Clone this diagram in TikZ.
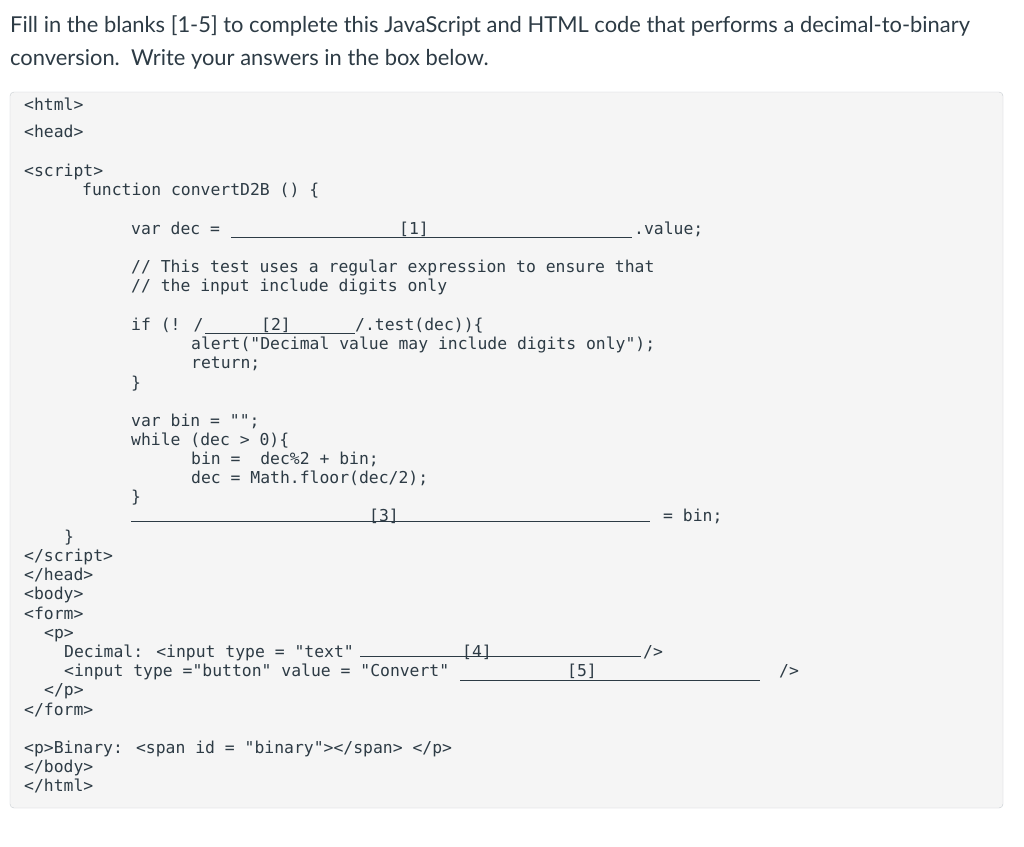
\documentclass[tikz,border=0pt]{standalone}
\usepackage{fontspec}
\setmainfont{Lato}
\newfontfamily\codefont{DejaVu Sans Mono}[Scale=1]
\definecolor{ink}{HTML}{2D3B45}
\definecolor{boxbg}{HTML}{F5F5F5}
\definecolor{boxline}{HTML}{C7CDD1}
\begin{document}
\begin{tikzpicture}[x=1pt,y=-1pt,
  code/.style={anchor=base west,inner sep=0pt,text=ink,font=\codefont\fontsize{16.4}{19}\selectfont},
  title/.style={anchor=base west,inner sep=0pt,text=ink,font=\fontsize{21.9}{26}\selectfont},
  blank/.style={draw=ink,line width=0.8pt}]
\useasboundingbox (0,0) rectangle (1024,846);
\fill[white] (0,0) rectangle (1024,846);
\node[title] (t1) at (10,32) {Fill in the blanks [1-5] to complete this JavaScript and HTML code that performs a decimal-to-binary};
\node[title] (t2) at (10,65) {conversion.\ \ Write your answers in the box below.};
\draw[boxline,fill=boxbg,rounded corners=4pt] (10,92) rectangle (1003,808);
\foreach \x/\y/\t [count=\i] in {
  24/110/{<html>},24/137/{<head>},24/176/{<script>},
  82/195/{function convertD2B () \{},
  131/234/{var dec =},
  131/272/{// This test uses a regular expression to ensure that},
  131/291/{// the input include digits only},
  131/330/{if (! /},
  191/349/{alert("Decimal value may include digits only");},
  191/368/{return;},
  131/388/{\}},
  131/426/{var bin = "";},
  131/445/{while (dec > 0)\{},
  191/464/{bin =\ \ dec\%2 + bin;},
  191/483/{dec = Math.floor(dec/2);},
  131/502/{\}},
  64/542/{\}},
  24/561/{</script>},24/580/{</head>},24/599/{<body>},24/619/{<form>},
  44/638/{<p>},
  64/657/{Decimal: <input type = "text"},
  64/676/{<input type ="button" value = "Convert"},
  44/695/{</p>},24/715/{</form>},
  24/753/{<p>Binary: <span id = "binary"></span> </p>},
  24/772/{</body>},24/791/{</html>}}
  \node[code] (l\i) at (\x,\y) {\t};
% blanks
\node[code] (v1) at (634,234) {.value;};
\draw[blank] (231,237) -- (632,237);
\node[code] (b1) at (399,234) {[1]};
\node[code] (v2) at (355,330) {/.test(dec))\{};
\draw[blank] (205,333) -- (355,333);
\node[code] (b2) at (261,330) {[2]};
\draw[blank] (131,521) -- (650,521);
\node[code] (b3) at (369,521) {[3]};
\node[code] (v3) at (663,521) {= bin;};
\draw[blank] (360,656) -- (641,656);
\node[code] (b4) at (462,657) {[4]};
\node[code] (v4) at (643,657) {/>};
\draw[blank] (460,680) -- (760,680);
\node[code] (b5) at (567,676) {[5]};
\node[code] (v5) at (779,676) {/>};
\end{tikzpicture}
\end{document}
